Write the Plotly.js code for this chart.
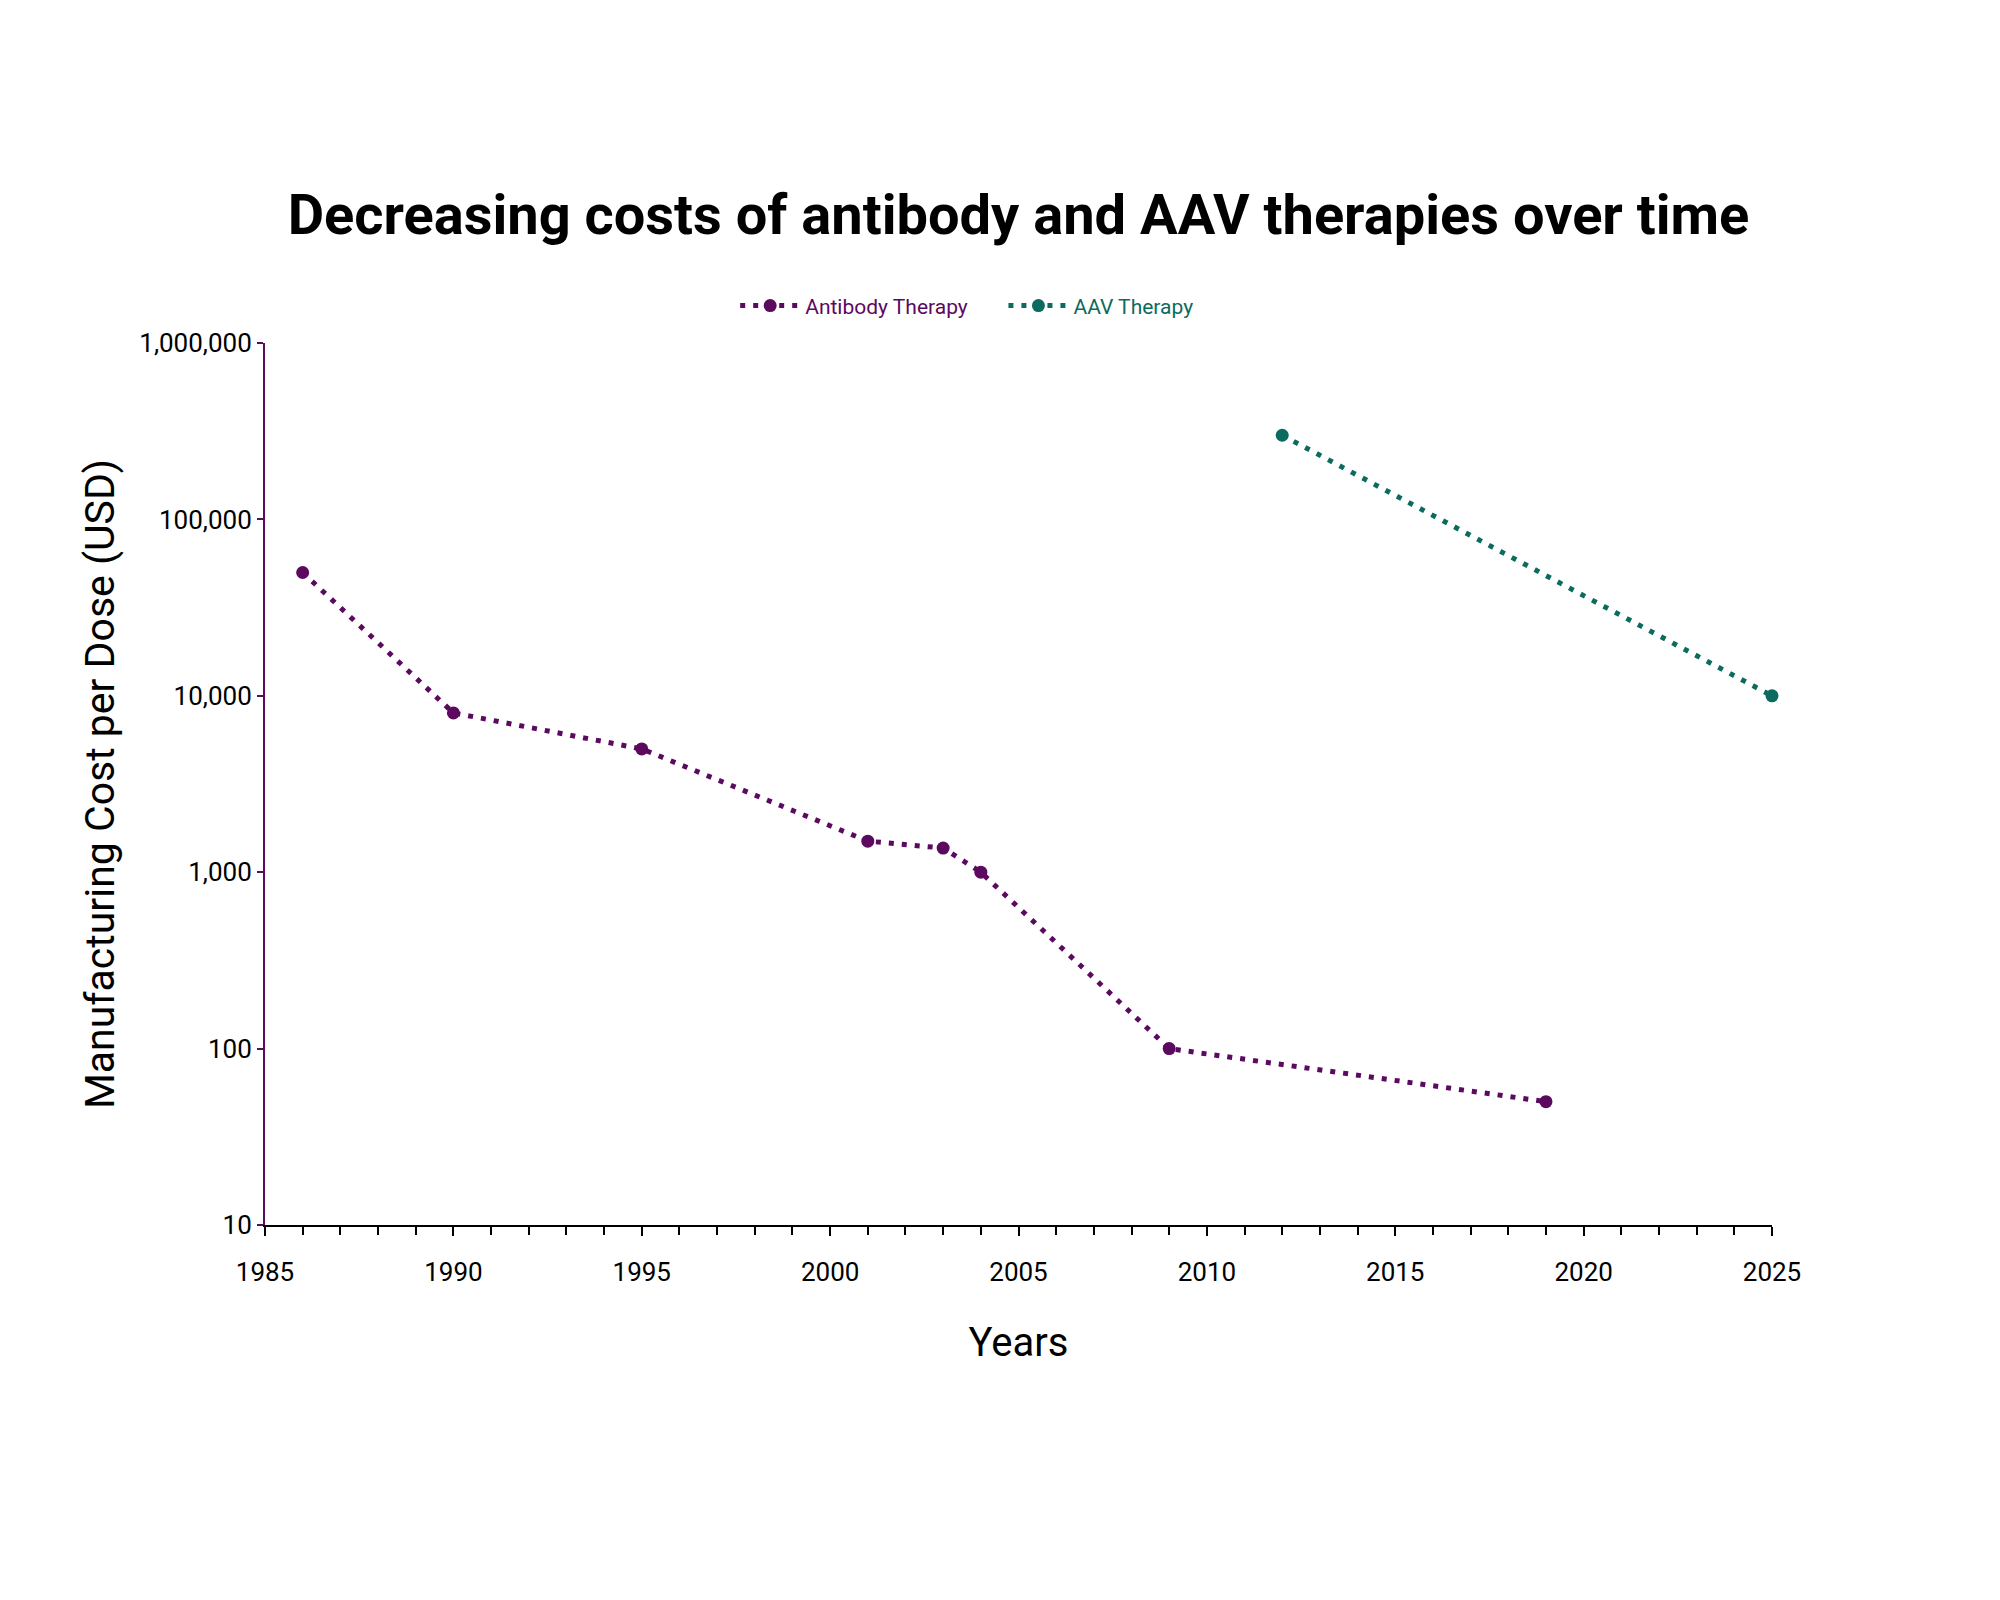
<!DOCTYPE html>
<html>
<head>
<meta charset="utf-8">
<script src="https://cdn.plot.ly/plotly-3.0.1.min.js"></script>
<style>html,body{margin:0;padding:0;background:#fff;}#chart{width:2000px;height:1600px;}</style>
</head>
<body>
<div id="chart"></div>
<script>
const antibodyYears = [1986, 1990, 1995, 2001, 2003, 2004, 2009, 2019];
const antibodyCost = [50000, 8000, 5000, 1500, 1370, 1000, 100, 50];
const aavYears = [2012, 2025];
const aavCost = [300000, 10000];
const yTickVals = [10, 100, 1000, 10000, 100000, 1000000];
const yTickText = ["10", "100", "1,000", "10,000", "100,000", "1,000,000"];
const xTickVals = [1985, 1990, 1995, 2000, 2005, 2010, 2015, 2020, 2025];

const purple = "#5b0a60";
const teal = "#0b6b5e";
const FONT = "Roboto, 'Noto Sans', sans-serif";

const traces = [
  {
    x: antibodyYears, y: antibodyCost, name: "Antibody Therapy",
    type: "scatter", mode: "lines+markers",
    line: {color: purple, width: 5, dash: "5px,8px"},
    marker: {color: purple, size: 13},
    cliponaxis: false, legend: "legend"
  },
  {
    x: aavYears, y: aavCost, name: "AAV Therapy",
    type: "scatter", mode: "lines+markers",
    line: {color: teal, width: 5, dash: "5px,8px"},
    marker: {color: teal, size: 13},
    cliponaxis: false, legend: "legend2"
  }
];

const layout = {
  width: 2000, height: 1600,
  paper_bgcolor: "#ffffff", plot_bgcolor: "#ffffff",
  font: {family: FONT, color: "#000"},
  margin: {l: 265, r: 228, t: 343, b: 375, autoexpand: false},
  title: {
    text: "<b>Decreasing costs of antibody and AAV therapies over time</b>",
    font: {family: FONT, size: 56, color: "#000"},
    xref: "paper", x: 0.5, xanchor: "center", y: 1 - 214/1600, yanchor: "middle"
  },
  showlegend: true,
  legend: {
    orientation: "h", x: 0.312, xanchor: "left", y: 1.042, yanchor: "middle",
    itemwidth: 60,
    font: {family: FONT, size: 21, color: purple}, bgcolor: "rgba(0,0,0,0)"
  },
  legend2: {
    orientation: "h", x: 0.490, xanchor: "left", y: 1.042, yanchor: "middle",
    itemwidth: 60,
    font: {family: FONT, size: 21, color: teal}, bgcolor: "rgba(0,0,0,0)"
  },
  xaxis: {
    range: [1985, 2025], tickmode: "array", tickvals: xTickVals,
    showgrid: false, zeroline: false,
    showline: true, linecolor: "#000", linewidth: 2,
    ticks: "outside", ticklen: 9, tickwidth: 2, tickcolor: "#000",
    ticklabelstandoff: 14,
    tickfont: {family: FONT, size: 26, color: "#000"},
    minor: {dtick: 1, ticks: "outside", ticklen: 8, tickwidth: 2, tickcolor: "#000", showgrid: false},
    title: {text: "Years", font: {family: FONT, size: 40, color: "#000"}, standoff: 42}
  },
  yaxis: {
    type: "log", range: [1, 6], tickmode: "array", tickvals: yTickVals, ticktext: yTickText,
    showgrid: false, zeroline: false,
    showline: true, linecolor: purple, linewidth: 2,
    ticks: "outside", ticklen: 6, tickwidth: 2, tickcolor: purple,
    tickfont: {family: FONT, size: 26, color: "#000"},
    title: {text: "Manufacturing Cost per Dose (USD)", font: {family: FONT, size: 41, color: "#000"}, standoff: 12}
  }
};

Plotly.newPlot("chart", traces, layout, {displayModeBar: false, staticPlot: true});
</script>
</body>
</html>
